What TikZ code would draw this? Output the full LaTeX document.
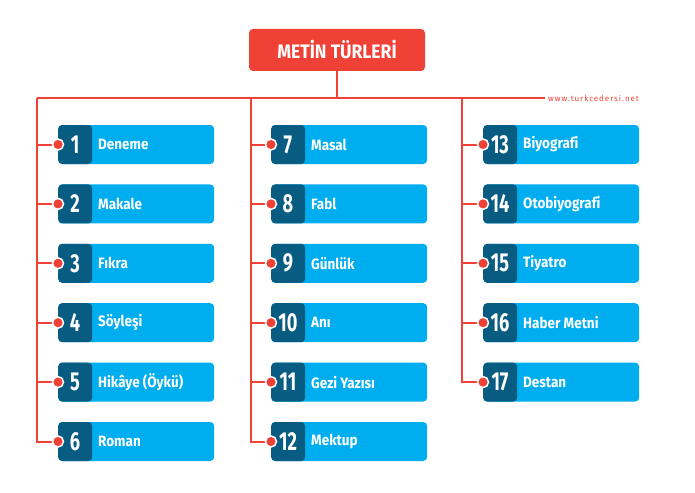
\documentclass[tikz,border=0pt]{standalone}
\usepackage{fontspec}
\setmainfont{Fira Sans}
\newfontfamily\labelfont{Fira Sans}[FakeStretch=0.9, Ligatures=NoCommon]
\newfontfamily\numfont{Fira Sans}[FakeStretch=0.7]
\newfontfamily\webfont{Fira Sans}[LetterSpace=12]
\usetikzlibrary{positioning}

\definecolor{titlered}{RGB}{239,65,54}
\definecolor{itemblue}{RGB}{0,174,239}
\definecolor{numblue}{RGB}{8,92,130}

\tikzset{
  titlebox/.style={fill=titlered, rounded corners=4pt, minimum width=176pt,
    minimum height=42pt, text=white, font=\labelfont\bfseries\fontsize{19.5}{21}\selectfont},
  itembox/.style={fill=itemblue, rounded corners=4pt, minimum width=156pt,
    minimum height=39pt, anchor=west, inner sep=0pt,
    path picture={\fill[numblue] (path picture bounding box.north west)
      rectangle ([xshift=34pt]path picture bounding box.south west);}},
  numtext/.style={text=white, inner sep=0pt, font=\numfont\bfseries\fontsize{26}{26}\selectfont},
  labeltext/.style={text=white, anchor=west, inner sep=0pt,
    font=\labelfont\bfseries\fontsize{15}{17}\selectfont},
  link/.style={draw=titlered, line width=2pt},
  dot/.style={circle, fill=titlered, draw=white, line width=1.5pt,
    minimum size=11pt, inner sep=0pt},
  web/.style={text=titlered, anchor=west, inner sep=0pt, font=\webfont\fontsize{8}{8}\selectfont}
}

\begin{document}
\begin{tikzpicture}[x=1pt,y=-1pt]
  \useasboundingbox (0,0) rectangle (695,492);

  % rails
  \coordinate (r1) at (37,98);
  \coordinate (r2) at (251,98);
  \coordinate (r3) at (462,98);

  \node[titlebox] (title) at (337,50) {METİN TÜRLERİ};
  \node[web] (web) at (548,98) {www.turkcedersi.net};
  \draw[link] (title.south) -- (title.south |- r1);
  \draw[link] (r1) -- ([xshift=-3pt]web.west);

  \foreach \n/\lab/\x/\r/\y in {
      1/Deneme/58/r1/144.5, 2/Makale/58/r1/203.9, 3/Fıkra/58/r1/263.3,
      4/Söyleşi/58/r1/322.7, 5/{Hikâye (Öykü)}/58/r1/382.1, 6/Roman/58/r1/441.5,
      7/Masal/271/r2/144.5, 8/Fabl/271/r2/203.9, 9/Günlük/271/r2/263.3,
      10/Anı/271/r2/322.7, 11/{Gezi Yazısı}/271/r2/382.1, 12/Mektup/271/r2/441.5,
      13/Biyografi/483/r3/144.5, 14/Otobiyografi/483/r3/203.9, 15/Tiyatro/483/r3/263.3,
      16/{Haber Metni}/483/r3/322.7, 17/Destan/483/r3/382.1} {
    \draw[link] (\r) |- (\x,\y);
    \node[itembox] (b\n) at (\x,\y) {};
    \node[numtext] (n\n) at ([xshift=17pt]b\n.west) {\n};
    \node[labeltext] (l\n) at ([xshift=40pt]b\n.west) {\lab};
    \node[dot] (d\n) at (b\n.west) {};
  }
\end{tikzpicture}
\end{document}
